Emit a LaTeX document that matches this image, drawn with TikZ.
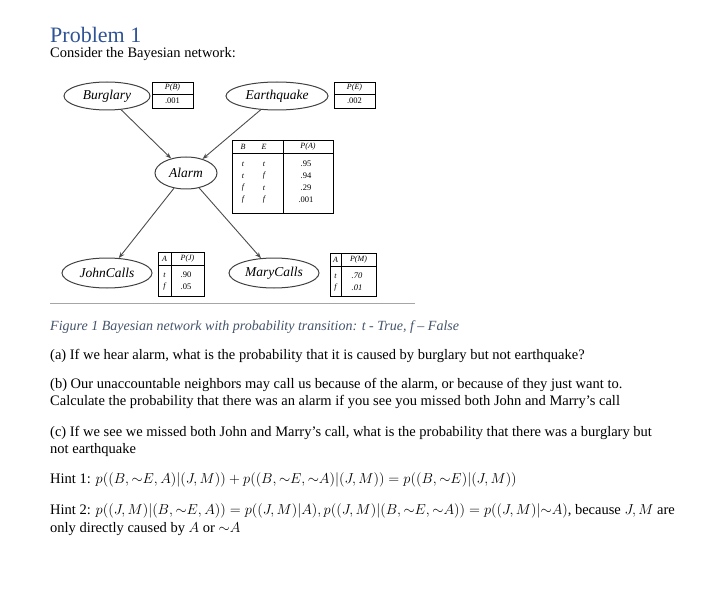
\documentclass[tikz,border=0pt]{standalone}
\usepackage{fontspec}
\setmainfont{Liberation Serif}
\usetikzlibrary{shapes.geometric,arrows.meta}
\definecolor{titleblue}{HTML}{2F5496}
\definecolor{capgray}{HTML}{44546A}
\begin{document}
\begin{tikzpicture}[x=1pt,y=-1pt,
  txt/.style={anchor=base west,inner sep=0pt,font=\fontsize{14.5}{16}\selectfont},
  bnode/.style={ellipse,draw=black!75,line width=1pt,inner sep=1pt,font=\fontsize{13.5}{15}\selectfont\itshape},
  cell/.style={inner sep=0pt,font=\fontsize{8}{9}\selectfont\itshape},
  val/.style={inner sep=0pt,font=\fontsize{8.5}{9}\selectfont},
  arr/.style={-{Stealth[length=6pt,width=4.5pt]},line width=0.9pt,black!70}]
\useasboundingbox (0,0) rectangle (728,596);
\node[txt,font=\fontsize{22}{24}\selectfont,text=titleblue] (title) at (50,43) {Problem 1};
\node[txt] (intro) at (50,58) {Consider the Bayesian network:};
% nodes
\node[bnode,minimum width=86,minimum height=28] (B) at (107,96) {Burglary};
\node[bnode,minimum width=102,minimum height=28] (E) at (277,96) {Earthquake};
\node[bnode,minimum width=62,minimum height=32] (A) at (186,173) {Alarm};
\node[bnode,minimum width=90,minimum height=30] (J) at (107,273) {JohnCalls};
\node[bnode,minimum width=90,minimum height=30] (M) at (274,273) {MaryCalls};
\draw[arr] (B) -- (A); \draw[arr] (E) -- (A);
\draw[arr] (A) -- (J); \draw[arr] (A) -- (M);
\begin{scope}[line width=0.8pt]
% P(B)
\draw (152,82) rectangle (193,108) (152,94) -- (193,94);
\node[cell] (pb) at (172.5,88) {P(B)}; \node[val] (pbv) at (172.5,101) {.001};
% P(E)
\draw (334,82) rectangle (375,108) (334,94) -- (375,94);
\node[cell] (pe) at (354.5,88) {P(E)}; \node[val] (pev) at (354.5,101) {.002};
% P(A)
\draw (232,140) rectangle (333,213) (232,153) -- (333,153) (283,140) -- (283,213);
\node[cell] (ab) at (243,147) {B}; \node[cell] (ae) at (264,147) {E}; \node[cell] (apa) at (308,147) {P(A)};
\foreach \b/\e/\v [count=\i] in {t/t/.95,t/f/.94,f/t/.29,f/f/.001}{
  \node[cell] (ab\i) at (243,152+\i*12) {\b};
  \node[cell] (ae\i) at (264,152+\i*12) {\e};
  \node[val] (av\i) at (306,152+\i*12) {\v};}
% P(J)
\draw (158,252) rectangle (204,296) (158,265) -- (204,265) (171,252) -- (171,296);
\node[cell] (ja) at (164.5,259) {A}; \node[cell] (jp) at (187.5,259) {P(J)};
\node[cell] (jt) at (164.5,275) {t}; \node[val] (jv1) at (186,275) {.90};
\node[cell] (jf) at (164.5,287) {f}; \node[val] (jv2) at (186,287) {.05};
% P(M)
\draw (330,253) rectangle (376,296) (330,266) -- (376,266) (341,253) -- (341,296);
\node[cell] (ma) at (335.5,260) {A}; \node[cell] (mp) at (358.5,260) {P(M)};
\node[cell] (mt) at (335.5,276) {t}; \node[val,font=\fontsize{8.5}{9}\selectfont\itshape] (mv1) at (357,276) {.70};
\node[cell] (mf) at (335.5,288) {f}; \node[val,font=\fontsize{8.5}{9}\selectfont\itshape] (mv2) at (357,288) {.01};
\end{scope}
\draw[gray!70,line width=1pt] (50,303) -- (415,303);
\node[txt,text=capgray,font=\fontsize{14}{16}\selectfont\itshape] (cap) at (50,330) {Figure 1 Bayesian network with probability transition: t - True, f -- False};
\node[txt] (qa) at (50,359) {(a) If we hear alarm, what is the probability that it is caused by burglary but not earthquake?};
\node[txt] (qb1) at (50,388) {(b) Our unaccountable neighbors may call us because of the alarm, or because of they just want to.};
\node[txt] (qb2) at (50,405) {Calculate the probability that there was an alarm if you see you missed both John and Marry's call};
\node[txt] (qc1) at (50,436) {(c) If we see we missed both John and Marry's call, what is the probability that there was a burglary but};
\node[txt] (qc2) at (50,453) {not earthquake};
\node[txt] (h1) at (50,483) {Hint 1: $p\big((B,{\sim}E,A)|(J,M)\big)+p\big((B,{\sim}E,{\sim}A)|(J,M)\big)=p\big((B,{\sim}E)|(J,M)\big)$};
\node[txt] (h2) at (50,514) {Hint 2: $p\big((J,M)|(B,{\sim}E,A)\big)=p\big((J,M)|A\big),p\big((J,M)|(B,{\sim}E,{\sim}A)\big)=p\big((J,M)|{\sim}A\big)$, because $J,M$ are};
\node[txt] (h3) at (50,532) {only directly caused by $A$ or ${\sim}A$};
\end{tikzpicture}
\end{document}
